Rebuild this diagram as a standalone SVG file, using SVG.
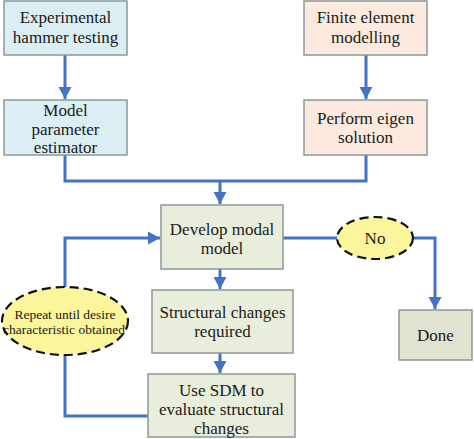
<svg xmlns="http://www.w3.org/2000/svg" width="474" height="439" viewBox="0 0 474 439">
<defs>
<style>
.box{stroke:#8c9898;stroke-width:1.5}
.blue{fill:#daeef3}
.peach{fill:#fbeadd}
.green{fill:#e9eedc}
.done{fill:#dfe3cf}
.ell{fill:#fbf69c;stroke:#111;stroke-width:2.2;stroke-dasharray:9 5}
.t{font-family:"Liberation Serif","Times New Roman",serif;font-size:17px;fill:#1a1a1a;text-anchor:middle}
.ts{font-family:"Liberation Serif","Times New Roman",serif;font-size:13.5px;fill:#1a1a1a;text-anchor:middle}
.c{fill:none;stroke:#4472c4;stroke-width:3}
</style>
<marker id="ah" markerWidth="12" markerHeight="14" viewBox="0 0 12 14" refX="12" refY="7" orient="auto" markerUnits="userSpaceOnUse">
<path d="M0,0.5 L12,7 L0,13.5 z" fill="#4472c4"/>
</marker>
</defs>
<rect width="474" height="439" fill="#fff"/>
<g id="connectors">
<path class="c" d="M65,55 V99" marker-end="url(#ah)"/>
<path class="c" d="M366,55 V99" marker-end="url(#ah)"/>
<path class="c" d="M65,155 V181 H366 V155"/>
<path class="c" d="M220,181 V204" marker-end="url(#ah)"/>
<path class="c" d="M65,287 V238 H160" marker-end="url(#ah)"/>
<path class="c" d="M220,269 V289" marker-end="url(#ah)"/>
<path class="c" d="M283,238 H337"/>
<path class="c" d="M413,238 H435 V309" marker-end="url(#ah)"/>
<path class="c" d="M220,353 V373" marker-end="url(#ah)"/>
<path class="c" d="M65,355 V416 H148"/>
</g>
<g id="n1"><rect class="box blue" x="4" y="1" width="123" height="54"/><text class="t" x="65.5" y="23">Experimental</text><text class="t" x="65.5" y="43">hammer testing</text></g>
<g id="n2"><rect class="box blue" x="4" y="100" width="123" height="55"/><text class="t" x="65.5" y="116">Model</text><text class="t" x="65.5" y="135">parameter</text><text class="t" x="65.5" y="153">estimator</text></g>
<g id="n3"><rect class="box peach" x="304" y="1" width="123" height="54"/><text class="t" x="365.5" y="23">Finite element</text><text class="t" x="365.5" y="43">modelling</text></g>
<g id="n4"><rect class="box peach" x="304" y="100" width="123" height="55"/><text class="t" x="365.5" y="124">Perform eigen</text><text class="t" x="365.5" y="143">solution</text></g>
<g id="n5"><rect class="box green" x="161" y="205" width="122" height="64"/><text class="t" x="222" y="235">Develop modal</text><text class="t" x="222" y="254">model</text></g>
<g id="n6"><ellipse class="ell" cx="375" cy="238" rx="38" ry="21"/><text class="t" x="375" y="244">No</text></g>
<g id="n7"><rect class="box done" x="399" y="310" width="73" height="50"/><text class="t" x="435.5" y="341">Done</text></g>
<g id="n8"><rect class="box green" x="152" y="290" width="141" height="63"/><text class="t" x="222.5" y="318">Structural changes</text><text class="t" x="222.5" y="337">required</text></g>
<g id="n9"><ellipse class="ell" cx="65" cy="321" rx="63" ry="34"/><text class="ts" x="65" y="319">Repeat until desire</text><text class="ts" x="64" y="334">characteristic obtained</text></g>
<g id="n10"><rect class="box green" x="148" y="374" width="147" height="63"/><text class="t" x="221.5" y="396">Use SDM to</text><text class="t" x="221.5" y="415">evaluate structural</text><text class="t" x="221.5" y="434">changes</text></g>
</svg>
